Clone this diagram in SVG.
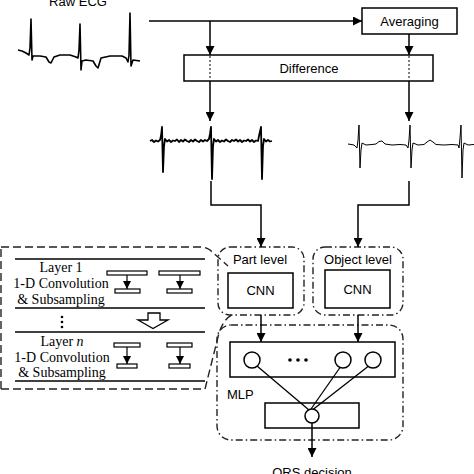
<svg xmlns="http://www.w3.org/2000/svg" width="474" height="474" viewBox="0 0 474 474">
<defs>
<marker id="ah" viewBox="0 0 10 10" refX="10" refY="5" markerWidth="10" markerHeight="9" orient="auto" markerUnits="userSpaceOnUse"><path d="M0,0 L10,5 L0,10 z" fill="#000"/></marker>
<marker id="ahs" viewBox="0 0 10 10" refX="10" refY="5" markerWidth="8" markerHeight="8" orient="auto" markerUnits="userSpaceOnUse"><path d="M0,0 L10,5 L0,10 z" fill="#000"/></marker>
<style>
.box{fill:#fff;stroke:#000;stroke-width:1.5}
.sans{font-family:"Liberation Sans",Arial,sans-serif;font-size:13px;fill:#000}
.serif{font-family:"Liberation Serif","Times New Roman",serif;font-size:14px;fill:#000}
.conn{fill:none;stroke:#000;stroke-width:1.5}
.dd{fill:none;stroke:#222;stroke-width:1.4;stroke-dasharray:7 3 1.5 3}
.dash{fill:none;stroke:#222;stroke-width:1.4;stroke-dasharray:8 4}
.sep{stroke:#000;stroke-width:1.3}
.bar{fill:#fff;stroke:#000;stroke-width:1.2}
.ecg{fill:none;stroke:#000;stroke-linejoin:round}
</style>
</defs>
<rect width="474" height="474" fill="#fff"/>

<g id="raw-ecg">
<text class="sans" x="78" y="6" text-anchor="middle">Raw ECG</text>
<path class="ecg" stroke-width="1.6" d="M18,50 L22,51 L26,53 L29,55 L30,48 L31,19 L32,60 L33,56 L40,56 L46,57 L49,62 L51,63 L54,57 L60,55 L70,55 L76,57 L78,58 L79,50 L80,24 L81,70 L82,61 L86,60 L93,61 L96,66 L98,68 L101,58 L110,56 L122,56 L126,58 L128,62 L129,55 L130,13 L131,66 L133,60 L140,61"/>
</g>

<g id="averaging">
<rect class="box" x="362" y="8" width="95" height="26"/>
<text class="sans" x="409.5" y="26" text-anchor="middle">Averaging</text>
</g>

<g id="difference">
<rect class="box" x="184" y="55" width="249" height="26"/>
<text class="sans" x="309" y="73" text-anchor="middle">Difference</text>
<line x1="210" y1="56" x2="210" y2="80" stroke="#000" stroke-width="1" stroke-dasharray="2 2"/>
<line x1="409" y1="56" x2="409" y2="80" stroke="#000" stroke-width="1" stroke-dasharray="2 2"/>
</g>

<g id="part-signal">
<path class="ecg" stroke-width="1.8" d="M150,141 L152,140 L154,142 L156,140.5 L158,141.5 L160,140 L161,136 L162,127 L163,172 L164,146 L165,139 L167,141.5 L169,140 L171,142 L173,140.5 L175,141 L177,139.5 L179,142 L181,140 L183,141.5 L185,139.5 L187,141 L189,142 L191,140 L193,141.5 L195,139.5 L197,141 L199,142 L201,140 L203,141.5 L205,140 L207,141 L209,139 L210,134 L211,127 L212,179 L213,146 L214,139 L216,141.5 L218,140 L220,142 L222,140.5 L224,141.5 L226,139.5 L228,141 L230,142 L232,140 L234,141 L236,139.5 L238,141.5 L240,140 L242,142 L244,140.5 L246,141 L248,139.5 L250,141.5 L252,140 L254,142 L256,140.5 L258,141 L259,136 L261,127 L262,179 L263,146 L264,139 L266,141.5 L268,140 L270,141.5 L272,141"/>
</g>

<g id="object-signal">
<path class="ecg" stroke-width="1" stroke="#222" d="M348,144 L354,145 L357,148 L358,140 L359,125 L360,168 L361,150 L362,143 L366,145 L372,144.5 L376,144 L379,141.5 L382,141 L385,144 L392,145 L400,144.5 L406,145 L408,148 L409,140 L410,125 L411,168 L412,150 L413,143 L418,145 L424,144.5 L427,142 L430,140 L433,142 L436,144.5 L444,145 L452,144.5 L458,145 L459,148 L460,138 L461,125 L462,178 L463,150 L464,143 L468,145 L474,144.5"/>
</g>

<g id="part-level">
<rect class="dd" x="218" y="247" width="86" height="68" rx="12"/>
<text class="sans" x="260" y="264" text-anchor="middle">Part level</text>
<rect class="box" x="228" y="273" width="65" height="35"/>
<text class="sans" x="260.5" y="295" text-anchor="middle">CNN</text>
</g>

<g id="object-level">
<rect class="dd" x="313" y="247" width="90" height="68" rx="12"/>
<text class="sans" x="358" y="264" text-anchor="middle">Object level</text>
<rect class="box" x="325" y="270" width="65" height="38"/>
<text class="sans" x="357.5" y="294" text-anchor="middle">CNN</text>
</g>

<g id="cnn-detail">
<path class="dash" d="M1,247 L200,247 Q206,247 210,250 L228,266"/>
<path class="dash" stroke="#777" d="M1,249 L1,389"/>
<path class="dash" d="M1,389 L205,389 L218,337 Q222,320 232,315"/>
<line class="sep" x1="15" y1="259" x2="205" y2="259"/>
<line class="sep" x1="15" y1="308" x2="205" y2="308"/>
<line class="sep" x1="15" y1="332" x2="205" y2="332"/>
<line class="sep" x1="15" y1="381" x2="205" y2="381"/>
<text class="serif" x="61" y="272" text-anchor="middle">Layer 1</text>
<text class="serif" x="61" y="288" text-anchor="middle">1-D Convolution</text>
<text class="serif" x="61" y="304" text-anchor="middle">&amp; Subsampling</text>
<text class="serif" x="62" y="346" text-anchor="middle">Layer <tspan font-style="italic">n</tspan></text>
<text class="serif" x="62" y="362" text-anchor="middle">1-D Convolution</text>
<text class="serif" x="62" y="377" text-anchor="middle">&amp; Subsampling</text>
<circle cx="62" cy="317" r="1.3"/>
<circle cx="62" cy="322" r="1.3"/>
<circle cx="62" cy="327" r="1.3"/>
<path d="M148,313 L160,313 L160,320 L168,320 L153,328.5 L138,320 L148,320 Z" fill="#fff" stroke="#000" stroke-width="1.3"/>
<rect class="bar" x="107" y="271" width="40" height="4"/>
<rect class="bar" x="115" y="289" width="25" height="4"/>
<line x1="127" y1="275" x2="127" y2="289" stroke="#000" stroke-width="1.2" marker-end="url(#ahs)"/>
<rect class="bar" x="159" y="271" width="41" height="4"/>
<rect class="bar" x="167" y="289" width="25" height="4"/>
<line x1="180" y1="275" x2="180" y2="289" stroke="#000" stroke-width="1.2" marker-end="url(#ahs)"/>
<rect class="bar" x="114" y="343" width="26" height="4"/>
<rect class="bar" x="117" y="364" width="20" height="4"/>
<line x1="127" y1="347" x2="127" y2="364" stroke="#000" stroke-width="1.2" marker-end="url(#ahs)"/>
<rect class="bar" x="167" y="343" width="25" height="4"/>
<rect class="bar" x="169" y="364" width="21" height="4"/>
<line x1="180" y1="347" x2="180" y2="364" stroke="#000" stroke-width="1.2" marker-end="url(#ahs)"/>
</g>

<g id="mlp">
<rect class="dd" x="217" y="325" width="186" height="115" rx="14"/>
<rect class="box" x="230" y="342" width="165" height="35"/>
<circle cx="252" cy="360" r="8" fill="#fff" stroke="#000" stroke-width="1.5"/>
<circle cx="343" cy="360" r="8" fill="#fff" stroke="#000" stroke-width="1.5"/>
<circle cx="373" cy="360" r="8" fill="#fff" stroke="#000" stroke-width="1.5"/>
<circle cx="290" cy="360" r="1.8"/>
<circle cx="298" cy="360" r="1.8"/>
<circle cx="306" cy="360" r="1.8"/>
<text class="sans" x="227" y="399">MLP</text>
<rect class="box" x="265" y="403" width="94" height="25"/>
<line x1="257" y1="366" x2="309" y2="410" stroke="#000" stroke-width="1.3"/>
<line x1="340" y1="367.5" x2="311" y2="409" stroke="#000" stroke-width="1.3"/>
<line x1="368" y1="366.5" x2="313" y2="409.5" stroke="#000" stroke-width="1.3"/>
<circle cx="312" cy="416" r="7" fill="#fff" stroke="#000" stroke-width="1.5"/>
</g>

<g id="qrs-decision">
<text class="sans" x="312" y="477" text-anchor="middle">QRS decision</text>
</g>

<g id="connectors">
<line class="conn" x1="149" y1="21" x2="362" y2="21" marker-end="url(#ah)"/>
<line class="conn" x1="210" y1="21" x2="210" y2="55" marker-end="url(#ah)"/>
<line class="conn" x1="409" y1="34" x2="409" y2="55" marker-end="url(#ah)"/>
<line class="conn" x1="210" y1="81" x2="210" y2="121" marker-end="url(#ah)"/>
<line class="conn" x1="409" y1="81" x2="409" y2="121" marker-end="url(#ah)"/>
<path class="conn" d="M211,181 V205 H261 V247" marker-end="url(#ah)"/>
<path class="conn" d="M409,181 V205 H358 V247" marker-end="url(#ah)"/>
<line class="conn" x1="261" y1="315" x2="261" y2="342" marker-end="url(#ah)"/>
<line class="conn" x1="358" y1="315" x2="358" y2="342" marker-end="url(#ah)"/>
<line class="conn" x1="312" y1="423" x2="312" y2="457" marker-end="url(#ah)"/>
</g>
</svg>
